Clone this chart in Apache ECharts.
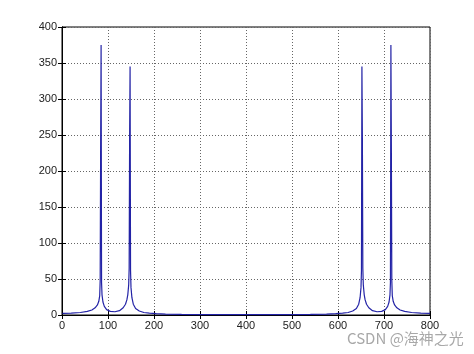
<!DOCTYPE html>
<html>
<head>
<meta charset="utf-8">
<script src="https://cdn.jsdelivr.net/npm/echarts@6/dist/echarts.min.js"></script>
<style>
html, body { margin: 0; padding: 0; background: #fff; }
#main { width: 474px; height: 354px; }
</style>
</head>
<body>
<div id="main"></div>
<script>
// 频谱各点（横坐标为点号，纵坐标为幅值）
var binX = [1, 20, 40, 55, 65, 72, 77, 80, 82, 83, 84, 85, 86, 87, 89, 92, 97, 105, 115, 125, 133, 138, 141, 143, 145, 146, 147, 148, 149, 150, 152, 155, 160, 168, 178, 190, 205, 225, 260, 300, 350, 400,
            450, 500, 540, 575, 595, 610, 622, 632, 640, 645, 648, 650, 651, 652, 653, 654, 655, 657, 659, 662, 667, 675, 685, 695, 703, 708, 711, 713, 714, 715, 716, 717, 718, 720, 723, 728, 735, 745, 760, 780, 800];
var amp  = [2.2, 2.6, 3.5, 5, 7, 10, 14, 19, 27, 48, 232, 375, 45, 28, 18, 12, 7.5, 5, 4.5, 6, 10, 15, 21, 28, 42, 65, 245, 345, 62, 38, 24, 15, 9, 5.5, 3.5, 2.5, 1.8, 1.2, 0.8, 0.6, 0.5, 0.5,
            0.5, 0.6, 0.8, 1.2, 1.8, 2.5, 3.5, 5.5, 9, 15, 24, 38, 62, 345, 245, 65, 42, 28, 21, 15, 10, 6, 4.5, 5, 7.5, 12, 18, 28, 45, 375, 232, 48, 27, 19, 14, 10, 7, 5, 3.5, 2.6, 2.2];
var xTicks = [0, 100, 200, 300, 400, 500, 600, 700, 800];
var yTicks = [0, 50, 100, 150, 200, 250, 300, 350, 400];

var pts = [];
for (var i = 0; i < binX.length; i++) {
    pts.push([binX[i], amp[i]]);
}

var myChart = echarts.init(document.getElementById('main'));
var lbl = { color: '#222', fontSize: 11, fontFamily: 'Liberation Sans, Arial, sans-serif' };
var tick = { inside: true, length: 4, lineStyle: { color: '#000' } };
var grid = { show: true, type: [1, 2], color: '#666', width: 1 };

option = {
    backgroundColor: '#fff',
    animation: false,
    grid: { left: 62, right: 44, top: 27, bottom: 39, show: true, borderColor: '#000', borderWidth: 1 },
    xAxis: [{
        type: 'value', min: 0, max: 800, interval: 100,
        axisLine: { show: true, onZero: false, lineStyle: { color: '#000' } },
        axisTick: tick,
        axisLabel: Object.assign({ margin: 5 }, lbl),
        splitLine: { show: true, lineStyle: grid }
    }, {
        type: 'value', position: 'top', min: 0, max: 800, interval: 100,
        axisLine: { show: true, lineStyle: { color: '#000' } },
        axisTick: tick, axisLabel: { show: false }, splitLine: { show: false }
    }],
    yAxis: [{
        type: 'value', min: 0, max: 400, interval: 50,
        axisLine: { show: true, onZero: false, lineStyle: { color: '#000' } },
        axisTick: tick,
        axisLabel: Object.assign({ margin: 5 }, lbl),
        splitLine: { show: true, lineStyle: grid }
    }, {
        type: 'value', position: 'right', min: 0, max: 400, interval: 50,
        axisLine: { show: true, lineStyle: { color: '#000' } },
        axisTick: tick, axisLabel: { show: false }, splitLine: { show: false }
    }],
    series: [{
        type: 'line',
        data: pts,
        showSymbol: false,
        smooth: false,
        lineStyle: { color: '#2323a6', width: 1.2 }
    }],
    graphic: [{
        type: 'text', left: 347, top: 331,
        style: { text: 'CSDN @海神之光', fill: '#a8a8a8', fontSize: 15, fontFamily: 'Noto Sans CJK SC' }
    }]
};
myChart.setOption(option);
</script>
</body>
</html>
